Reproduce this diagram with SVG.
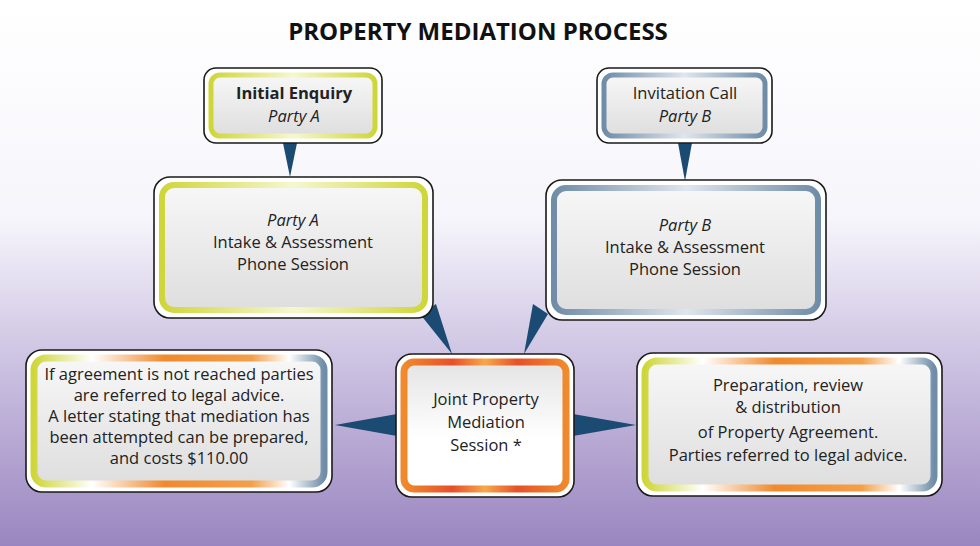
<svg xmlns="http://www.w3.org/2000/svg" width="980" height="546" viewBox="0 0 980 546">
<defs>
<linearGradient id="bg" x1="0" y1="0" x2="0" y2="1">
<stop offset="0" stop-color="#ffffff"/><stop offset="0.4" stop-color="#f6f5fb"/><stop offset="0.62" stop-color="#d3cae6"/><stop offset="1" stop-color="#9a86c0"/>
</linearGradient>
<linearGradient id="fill" x1="0" y1="0" x2="0" y2="1">
<stop offset="0" stop-color="#f7f7f7"/><stop offset="1" stop-color="#dedede"/>
</linearGradient>
<linearGradient id="fillw" x1="0" y1="0" x2="0" y2="1">
<stop offset="0" stop-color="#e4e4e4"/><stop offset="0.6" stop-color="#ffffff"/><stop offset="1" stop-color="#ffffff"/>
</linearGradient>
<linearGradient id="yel" x1="0" y1="0" x2="1" y2="0">
<stop offset="0" stop-color="#cfd63a"/><stop offset="0.5" stop-color="#f6f7d0"/><stop offset="1" stop-color="#cfd63a"/>
</linearGradient>
<linearGradient id="blu" x1="0" y1="0" x2="1" y2="0">
<stop offset="0" stop-color="#6f8ca8"/><stop offset="0.5" stop-color="#dfe6ee"/><stop offset="1" stop-color="#6f8ca8"/>
</linearGradient>
<linearGradient id="org" x1="0" y1="0" x2="1" y2="0">
<stop offset="0" stop-color="#f08a2c"/><stop offset="0.3" stop-color="#e6502a"/><stop offset="0.5" stop-color="#f7a84a"/><stop offset="0.7" stop-color="#e6502a"/><stop offset="1" stop-color="#f08a2c"/>
</linearGradient>
<linearGradient id="mix" x1="0" y1="0" x2="1" y2="0">
<stop offset="0" stop-color="#cfd63a"/><stop offset="0.2" stop-color="#ffffff"/><stop offset="0.45" stop-color="#f08a2c"/><stop offset="0.75" stop-color="#f3a04a"/><stop offset="0.88" stop-color="#ffffff"/><stop offset="1" stop-color="#6f8ca8"/>
</linearGradient>
</defs>
<style>
.outer{fill:#ffffff;stroke:#1a1a1a;stroke-width:1.6}
.t{font-family:"Open Sans","Liberation Sans",sans-serif;font-size:16.5px;fill:#222;text-anchor:middle}
.i{font-style:italic}
.b{font-weight:bold}
.w{fill:#1b4a72}
</style>
<rect width="980" height="546" fill="url(#bg)"/>
<text x="478" y="40" class="t b" style="font-size:24px;fill:#111">PROPERTY MEDIATION PROCESS</text>
<g id="connectors">
<polygon class="w" points="283,143 297,143 290,177"/>
<polygon class="w" points="678,143 692,143 685,181"/>
<polygon class="w" points="420,314 436,304 452,354"/>
<polygon class="w" points="533,304 548,314 524,354"/>
<polygon class="w" points="397,414 397,436 335,425"/>
<polygon class="w" points="573,414 573,436 636,425"/>
</g>
<g id="n1">
<rect class="outer" x="204" y="68" width="178" height="75" rx="12"/>
<rect x="211" y="75" width="164" height="61" rx="9" fill="url(#fill)" stroke="url(#yel)" stroke-width="5"/>
<text x="294" y="99" class="t b">Initial Enquiry</text>
<text x="294" y="122" class="t i">Party A</text>
</g>
<g id="n2">
<rect class="outer" x="597" y="68" width="175" height="75" rx="12"/>
<rect x="604" y="75" width="161" height="61" rx="9" fill="url(#fill)" stroke="url(#blu)" stroke-width="5"/>
<text x="685" y="99" class="t">Invitation Call</text>
<text x="685" y="122" class="t i">Party B</text>
</g>
<g id="n3">
<rect class="outer" x="154" y="177" width="279" height="141" rx="16"/>
<rect x="162" y="185" width="263" height="125" rx="12" fill="url(#fill)" stroke="url(#yel)" stroke-width="6"/>
<text x="293" y="226" class="t i">Party A</text>
<text x="293" y="248" class="t">Intake &amp; Assessment</text>
<text x="293" y="270" class="t">Phone Session</text>
</g>
<g id="n4">
<rect class="outer" x="546" y="180" width="280" height="140" rx="16"/>
<rect x="554" y="188" width="264" height="124" rx="12" fill="url(#fill)" stroke="url(#blu)" stroke-width="6"/>
<text x="685" y="231" class="t i">Party B</text>
<text x="685" y="253" class="t">Intake &amp; Assessment</text>
<text x="685" y="275" class="t">Phone Session</text>
</g>
<g id="n5">
<rect class="outer" x="396" y="354" width="178" height="143" rx="16"/>
<rect x="404" y="362" width="162" height="127" rx="10" fill="url(#fillw)" stroke="url(#org)" stroke-width="7"/>
<text x="486" y="405" class="t">Joint Property</text>
<text x="486" y="428" class="t">Mediation</text>
<text x="486" y="451" class="t">Session *</text>
</g>
<g id="n6">
<rect class="outer" x="26" y="350" width="306" height="142" rx="16"/>
<rect x="34" y="358" width="290" height="126" rx="12" fill="url(#fill)" stroke="url(#mix)" stroke-width="7"/>
<text x="179" y="380" class="t">If agreement is not reached parties</text>
<text x="179" y="401" class="t">are referred to legal advice.</text>
<text x="179" y="422" class="t">A letter stating that mediation has</text>
<text x="179" y="443" class="t">been attempted can be prepared,</text>
<text x="179" y="464" class="t">and costs $110.00</text>
</g>
<g id="n7">
<rect class="outer" x="637" y="353" width="305" height="143" rx="16"/>
<rect x="645" y="361" width="289" height="127" rx="12" fill="url(#fill)" stroke="url(#mix)" stroke-width="7"/>
<text x="788" y="391" class="t">Preparation, review</text>
<text x="788" y="413" class="t">&amp; distribution</text>
<text x="788" y="438" class="t">of Property Agreement.</text>
<text x="788" y="461" class="t">Parties referred to legal advice.</text>
</g>
</svg>
